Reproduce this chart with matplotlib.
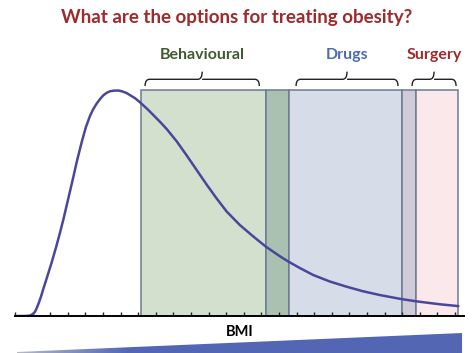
import numpy as np
import matplotlib.pyplot as plt
from matplotlib.path import Path
from matplotlib.patches import PathPatch, Rectangle, Polygon
from matplotlib.colors import to_rgb

plt.rcParams['font.family'] = ['Lato', 'DejaVu Sans']

# BMI distribution curve (x in tick units, y relative to peak)
bmi_x = [0.10, 0.57, 0.85, 1.02, 1.14, 1.25, 1.36, 1.48, 1.59, 1.82, 2.09, 2.33,
         2.56, 2.76, 2.94, 3.13, 3.30, 3.52, 3.79, 4.03, 4.26, 4.45, 4.64, 4.83,
         5.02, 5.21, 5.40, 5.68, 5.88, 6.06, 6.31, 6.53, 6.82, 7.10, 7.57, 8.24,
         8.62, 9.19, 9.76, 10.32, 10.89, 11.46, 12.03, 12.78, 13.47, 14.24, 15.06,
         15.53, 16.19, 16.95, 17.90, 18.85, 19.77, 20.74, 21.97, 22.82, 24.15, 25.19]
density = [0.0, 0.0, 0.002, 0.009, 0.019, 0.038, 0.060, 0.087, 0.116, 0.172, 0.240, 0.305,
           0.371, 0.433, 0.493, 0.556, 0.613, 0.689, 0.773, 0.840, 0.889, 0.920, 0.944, 0.964,
           0.981, 0.992, 0.999, 1.002, 1.002, 0.999, 0.992, 0.982, 0.968, 0.950, 0.916, 0.863,
           0.831, 0.776, 0.713, 0.649, 0.584, 0.522, 0.464, 0.404, 0.358, 0.309, 0.265,
           0.242, 0.213, 0.182, 0.153, 0.130, 0.110, 0.093, 0.075, 0.065, 0.052, 0.044]

# shaded bands: (start, end, fill colour)
band_start = [7.16, 14.24, 15.57, 21.99, 22.78]
band_end = [14.24, 15.57, 21.99, 22.78, 25.17]
band_color = ['#d4e0ce', '#aac1b1', '#d6dde9', '#cfcbd9', '#fae8ea']
band_top = 1.004

# brace groups
groups = ['Behavioural', 'Drugs', 'Surgery']
group_start = [7.39, 15.97, 22.56]
group_end = [13.88, 21.76, 25.06]
group_color = ['#3f5a2c', '#4f6bb2', '#9e2a2b']

ticks = np.arange(0, 26)

fig = plt.figure(figsize=(4.74, 3.53), dpi=100)
ax = fig.add_axes([15 / 474, 37 / 353, 448.8 / 474, 270 / 353])

for s, e, c in zip(band_start, band_end, band_color):
    ax.add_patch(Rectangle((s, 0), e - s, band_top, facecolor=c,
                           edgecolor='#6c7b92', linewidth=1.1, zorder=1))

ax.plot(bmi_x, density, color='#4a479a', linewidth=1.8, zorder=3,
        solid_capstyle='round', solid_joinstyle='round')

# braces + labels
yb, yh, yt = 1.022, 1.052, 1.086
r = 0.25
for s, e, name, c in zip(group_start, group_end, groups, group_color):
    m = (s + e) / 2
    verts = [(s, yb), (s, yh), (s + r, yh),
             (m - r, yh), (m, yh), (m, yt),
             (m, yh), (m + r, yh),
             (e - r, yh), (e, yh), (e, yb)]
    codes = [Path.MOVETO, Path.CURVE3, Path.CURVE3,
             Path.LINETO, Path.CURVE3, Path.CURVE3,
             Path.MOVETO, Path.LINETO,
             Path.LINETO, Path.CURVE3, Path.CURVE3]
    ax.add_patch(PathPatch(Path(verts, codes), fill=False, edgecolor='#222222',
                           linewidth=1.0, clip_on=False))
    ax.text(m, 1.16, name, color=c, fontsize=11.5, fontweight='bold',
            ha='center', va='center', clip_on=False)

# gradient wedge below the axis
wx0, wx1 = 0.11, 25.4
wy_left, wy_right, wy_bot = -0.16, -0.0756, -0.175
c0 = np.array(to_rgb('#b4b8c8'))
c1 = np.array(to_rgb('#5266b4'))
t = np.clip(np.linspace(0, 1, 400) / 0.25, 0, 1)
grad = (c0[None, :] + (c1 - c0)[None, :] * t[:, None])[None, :, :]
im = ax.imshow(grad, extent=[wx0, wx1, wy_bot, wy_right], aspect='auto',
               interpolation='bilinear', zorder=0)
wedge = Polygon([(wx0, wy_left), (wx1, wy_right), (wx1, wy_bot), (wx0, wy_bot)],
                closed=True, facecolor='none', edgecolor='none', clip_on=False)
ax.add_patch(wedge)
im.set_clip_path(wedge)
im.set_clip_box(fig.bbox)

ax.set_xlim(0, 25.5)
ax.set_ylim(0, 1.2)
for sp in ['top', 'right', 'left']:
    ax.spines[sp].set_visible(False)
ax.spines['bottom'].set_linewidth(1.4)
ax.spines['bottom'].set_zorder(4)
ax.set_yticks([])
ax.set_xticks(ticks)
ax.set_xticklabels([])
ax.tick_params(axis='x', direction='in', length=3, width=1.0, color='#222222')
ax.set_xlabel('BMI', fontsize=10.5, fontweight='bold', labelpad=3)

fig.text(0.5, 1 - 17 / 353, 'What are the options for treating obesity?',
         color='#9e2a2b', fontsize=13.5, fontweight='bold', ha='center', va='center')

fig.savefig('out.png', dpi=100)
